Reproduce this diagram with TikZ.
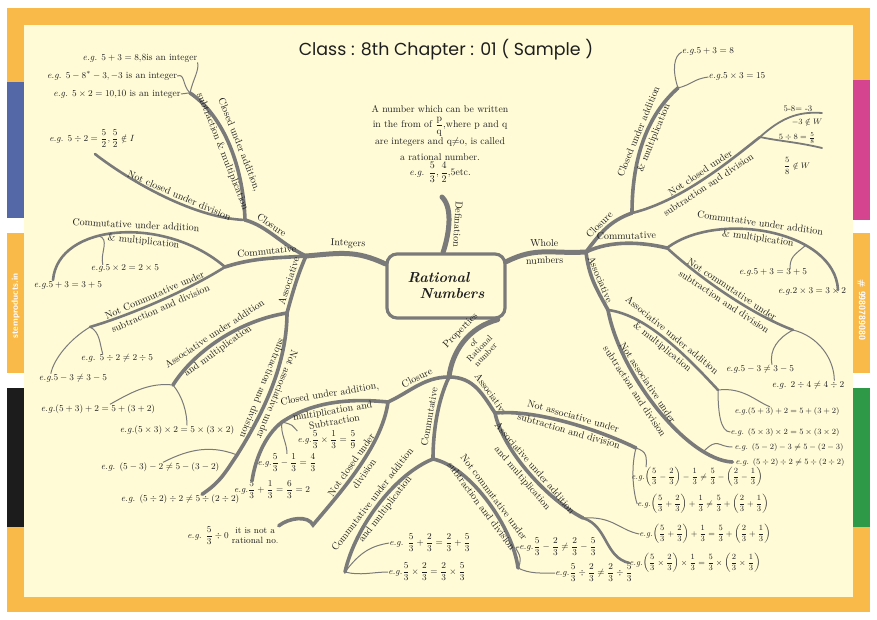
\documentclass[tikz,border=0pt]{standalone}
\usepackage{amsmath}
\usepackage{fontspec}
\newfontfamily\titlefont{Poppins}
\definecolor{cream}{RGB}{255,251,214}
\definecolor{orng}{RGB}{249,186,73}
\definecolor{blu}{RGB}{84,103,167}
\definecolor{mag}{RGB}{213,68,143}
\definecolor{blk}{RGB}{28,28,28}
\definecolor{grn}{RGB}{46,153,70}
\definecolor{brgray}{RGB}{122,122,122}
\definecolor{ink}{RGB}{30,30,30}
\newcommand{\eg}{\textit{e.g.}}

\begin{document}
\begin{tikzpicture}[x=1pt,y=-1pt,
    br0/.style={draw=brgray,line width=5pt,line cap=round},
    br1/.style={draw=brgray,line width=3.6pt,line cap=round},
    br2/.style={draw=brgray,line width=2.6pt,line cap=round},
    br3/.style={draw=brgray,line width=1.8pt,line cap=round},
    twig/.style={draw=brgray,line width=1pt},
    lbl/.style={font=\fontsize{10}{11}\selectfont,inner sep=1pt,text=ink},
    eg/.style={font=\fontsize{9.5}{11}\selectfont,inner sep=0pt,text=ink},
    egf/.style={font=\fontsize{9}{10}\selectfont,inner sep=0pt,text=ink},
    egs/.style={font=\fontsize{8.5}{10}\selectfont,inner sep=0pt,text=ink},
    side/.style={font=\sffamily\bfseries\fontsize{9}{10}\selectfont,text=white}]
    \useasboundingbox (0,0) rectangle (877,620);
    \fill[white] (0,0) rectangle (877,620);
    \fill[orng] (7,8) rectangle (870,612);
    \fill[cream] (24,25) rectangle (853,597);
    \fill[blu] (7,82) rectangle (24,218);
    \fill[white] (7,218) rectangle (24,233);
    \fill[white] (7,373) rectangle (24,388);
    \fill[blk] (7,388) rectangle (24,527);
    \fill[mag] (853,80) rectangle (870,220);
    \fill[white] (853,220) rectangle (870,233);
    \fill[white] (853,373) rectangle (870,388);
    \fill[grn] (853,388) rectangle (870,527);
    \node[side,rotate=90] (web) at (15.5,306) {stemproducts.in};
    \node[side,rotate=-90] (phone) at (861.5,310) {\# 9980789080};
    \node[font=\titlefont\fontsize{17.4}{19}\selectfont,text=ink] (title) at (446,50) {Class : 8th Chapter : 01 ( Sample )};

    \node[draw=brgray,line width=3.2pt,rounded corners=10pt,fill=cream,minimum width=118pt,minimum height=64pt,
        align=left,text=ink,font=\fontsize{14.5}{16}\selectfont\bfseries\itshape] (rn) at (446,286) {Rational\\\hspace*{12pt}Numbers};

    \coordinate (int) at (306,256);
    \coordinate (icl) at (245,220);
    \coordinate (iclt) at (190,93);
    \coordinate (ind) at (95,154);
    \coordinate (icm) at (225,267);
    \coordinate (icme) at (53,280);
    \coordinate (incm) at (90,327);
    \coordinate (ias) at (287,313);
    \coordinate (iasa) at (173,385);
    \coordinate (iasn) at (237,455);
    \coordinate (dtop) at (442,197);
    \coordinate (wh) at (586,252);
    \coordinate (wcl) at (632,213);
    \coordinate (wclt) at (678,88);
    \coordinate (wcln) at (760,137);
    \coordinate (wt1) at (822,113);
    \coordinate (wt2) at (822,148);
    \coordinate (wcm) at (667,248);
    \coordinate (wcme) at (838,290);
    \coordinate (wcmn) at (793,330);
    \coordinate (was) at (608,310);
    \coordinate (wasa) at (718,390);
    \coordinate (pr) at (449,377);
    \coordinate (pcl) at (388,402);
    \coordinate (pclc) at (282,422);
    \coordinate (pnd) at (313,525);
    \coordinate (pcm) at (433,459);
    \coordinate (pcme) at (345,572);
    \coordinate (pcmn) at (518,568);
    \coordinate (pas) at (495,413);
    \coordinate (pasn) at (636,448);
    \coordinate (pasa) at (583,518);

    \node[eg,align=center,font=\fontsize{9.8}{15.5}\selectfont] (defn) at (440,144) {A number which can be written\\
        in the from of $\dfrac{\mathrm p}{\mathrm q}$,where p and q\\ are integers and q$\neq$o, is called\\
        a rational number.\\ \eg{} $\dfrac53,\dfrac42$,5etc.};

    \node[eg] (i1) at (140,58) {\eg{} $5+3=8$,8is an integer};
    \node[eg] (i2) at (112,76) {\eg{} $5-8^{*}-3,-3$ is an integer};
    \node[eg] (i3) at (117,94) {\eg{} $5\times2=10$,10 is an integer};
    \node[egf] (i4) at (92,139) {\eg{} $5\div2=\dfrac52,\dfrac52\notin I$};
    \node[eg] (i5) at (68,286) {\eg{}$5+3=3+5$};
    \node[eg] (i6) at (125,269) {\eg{}$5\times2=2\times5$};
    \node[eg] (i7) at (117,358) {\eg{} $5\div2\neq2\div5$};
    \node[eg] (i8) at (73,378) {\eg{}$5-3\neq3-5$};
    \node[eg] (i9) at (98,409) {\eg{}$(5+3)+2=5+(3+2)$};
    \node[eg] (i10) at (177,430) {\eg{}$(5\times3)\times2=5\times(3\times2)$};
    \node[eg] (i11) at (160,467) {\eg{} $(5-3)-2\neq5-(3-2)$};
    \node[eg] (i12) at (180,499) {\eg{} $(5\div2)\div2\neq5\div(2\div2)$};

    \node[egf] (p1) at (327,440) {\eg{}$\dfrac53\times\dfrac13=\dfrac59$};
    \node[egf] (p2) at (287,463) {\eg{}$\dfrac53-\dfrac13=\dfrac43$};
    \node[egf] (p3) at (272,490) {\eg{}$\dfrac53+\dfrac13=\dfrac63=2$};
    \node[egf] (p4) at (233,536) {\eg{} $\dfrac53\div0$ \begin{tabular}{@{}c@{}}it is not a\\rational no.\end{tabular}};
    \node[egf] (p5) at (430,543) {\eg{} $\dfrac53+\dfrac23=\dfrac23+\dfrac53$};
    \node[egf] (p6) at (427,572) {\eg{}$\dfrac53\times\dfrac23=\dfrac23\times\dfrac53$};
    \node[egf] (p7) at (558,547) {\eg{}$\dfrac53-\dfrac23\neq\dfrac23-\dfrac53$};
    \node[egf] (p8) at (594,573) {\eg{}$\dfrac53\div\dfrac23\neq\dfrac23\div\dfrac53$};
    \node[egs] (p9) at (697,477) {\eg{}$\left(\dfrac53-\dfrac23\right)-\dfrac13\neq\dfrac53-\left(\dfrac23-\dfrac13\right)$};
    \node[egs] (p10) at (703,504) {\eg{}$\left(\dfrac53+\dfrac23\right)+\dfrac13\neq\dfrac53+\left(\dfrac23+\dfrac13\right)$};
    \node[egs] (p11) at (705,534) {\eg{}$\left(\dfrac53+\dfrac23\right)+\dfrac13=\dfrac53+\left(\dfrac23+\dfrac13\right)$};
    \node[egs] (p12) at (695,563) {\eg{}$\left(\dfrac53\times\dfrac23\right)\times\dfrac13=\dfrac53\times\left(\dfrac23\times\dfrac13\right)$};

    \node[eg] (w1) at (708,52) {\eg{}$5+3=8$};
    \node[eg] (w2) at (737,77) {\eg{}$5\times3=15$};
    \node[egs] (w3) at (798,109) {5-8= -3};
    \node[egs] (w4) at (807,122) {$-3\notin W$};
    \node[egs] (w5) at (797,138) {$5\div8=\frac58$};
    \node[egs] (w6) at (797,166) {$\dfrac58\notin W$};
    \node[eg] (w7) at (773,273) {\eg{}$5+3=3+5$};
    \node[eg] (w8) at (812,292) {\eg{}$2\times3=3\times2$};
    \node[eg] (w9) at (760,369) {\eg{}$5-3\neq3-5$};
    \node[eg] (w10) at (808,385) {\eg{} $2\div4\neq4\div2$};
    \node[egs] (w11) at (787,411) {\eg{}$(5+3)+2=5+(3+2)$};
    \node[egs] (w12) at (785,432) {\eg{} $(5\times3)\times2=5\times(3\times2)$};
    \node[egs] (w13) at (789,447) {\eg{} $(5-2)-3\neq5-(2-3)$};
    \node[egs] (w14) at (790,462) {\eg{} $(5\div2)\div2\neq5\div(2\div2)$};

    \draw[br0] (dtop) .. controls +(12,12) and +(5,-15) .. (rn.95)
        node[lbl,pos=.5,sloped,allow upside down,above=2pt] (ldef) {Defination};

    \draw[br0] (rn.160) .. controls +(-30,-14) and +(35,-3) .. (int)
        node[lbl,pos=.5,sloped,above=2pt] (lint) {Integers};
    \draw[br1] (int) .. controls +(-25,-12) and +(22,6) .. (icl)
        node[lbl,pos=.62,sloped,above=1pt] (licl) {Closure};
    \draw[br1] (icl) .. controls +(-2,-60) and +(30,20) .. (iclt)
        node[lbl,pos=.45,sloped,above=1.5pt] (licl1) {Closed under addition,}
        node[lbl,pos=.45,sloped,below=1.5pt] (licl2) {subtraction \& multiplication};
    \draw[twig] (iclt) .. controls +(3,-14) and +(2,8) .. (i1.south east);
    \draw[twig] (iclt) .. controls +(-8,-8) and +(8,-3) .. (i2.east);
    \draw[twig] (iclt) .. controls +(-4,0) and +(3,0) .. (i3.east);
    \draw[br2] (icl) .. controls +(-55,-2) and +(28,22) .. (ind)
        node[lbl,pos=.4,sloped,above=1.5pt] (lind) {Not closed under division};
    \draw[br1] (int) .. controls +(-25,2) and +(30,-10) .. (icm)
        node[lbl,pos=.5,sloped,above=1pt] (licm) {Commutative};
    \draw[br2] (icm) .. controls +(-60,-52) and +(5,-57) .. (icme) coordinate[pos=.6] (icmt)
        node[lbl,pos=.42,sloped,above=1.5pt] (licm1) {Commutative under addition}
        node[lbl,pos=.38,sloped,below=1.5pt] (licm2) {\& multiplication};
    \draw[twig] (icmt) .. controls +(12,3) and +(-3,-12) .. ([xshift=12pt]i6.north west);
    \draw[br2] (icm) .. controls +(-40,25) and +(40,-12) .. (incm)
        node[lbl,pos=.5,sloped,above=1.5pt] (lincm1) {Not Commutative under}
        node[lbl,pos=.5,sloped,below=1.5pt] (lincm2) {subtraction and division};
    \draw[twig] (incm) .. controls +(-20,12) and +(3,-15) .. ([xshift=12pt]i8.north west);
    \draw[twig] (incm) .. controls +(10,5) and +(-3,-10) .. ([xshift=22pt]i7.north west);
    \draw[br1] (int) .. controls +(-8,18) and +(6,-22) .. (ias)
        node[lbl,pos=.5,sloped,above=1pt] (lias) {Associative};
    \draw[br1] (ias) .. controls +(-50,8) and +(20,-32) .. (iasa)
        node[lbl,pos=.5,sloped,above=1.5pt] (lias1) {Associative under addition}
        node[lbl,pos=.55,sloped,below=1.5pt] (lias2) {and multiplication};
    \draw[twig] (iasa) .. controls +(-25,-3) and +(18,-10) .. ([xshift=12pt]i9.north);
    \draw[twig] (iasa) .. controls +(10,12) and +(0,-12) .. ([xshift=10pt]i10.north);
    \draw[br1] (ias) .. controls +(0,55) and +(22,-35) .. (iasn)
        node[lbl,pos=.5,sloped,allow upside down,above=1.5pt] (linas1) {Not associative under}
        node[lbl,pos=.5,sloped,allow upside down,below=1.5pt] (linas2) {subtraction and division}
        .. controls +(-12,18) and +(18,-12) .. ([xshift=22pt]i12.north);
    \draw[twig] (iasn) .. controls +(-30,-12) and +(20,-10) .. ([xshift=3pt]i11.north);

    \draw[br0] (rn.22) .. controls +(30,-15) and +(-35,2) .. (wh)
        node[lbl,pos=.5,sloped,above=1.5pt] (lwh1) {Whole}
        node[lbl,pos=.5,sloped,below=1.5pt] (lwh2) {numbers};
    \draw[br1] (wh) .. controls +(15,-20) and +(-22,8) .. (wcl)
        node[lbl,pos=.45,sloped,above=1pt] (lwcl) {Closure};
    \draw[br1] (wcl) .. controls +(0,-65) and +(-25,22) .. (wclt)
        node[lbl,pos=.5,sloped,above=1.5pt] (lwcl1) {Closed under addition}
        node[lbl,pos=.5,sloped,below=1.5pt] (lwcl2) {\& multiplication};
    \draw[twig] (wclt) .. controls +(-6,-18) and +(-8,4) .. (w1.west);
    \draw[twig] (wclt) .. controls +(15,-4) and +(-15,2) .. (w2.west);
    \draw[br2] (wcl) .. controls +(50,-12) and +(-28,22) .. (wcln)
        node[lbl,pos=.5,sloped,above=1.5pt] (lwcln1) {Not closed under}
        node[lbl,pos=.5,sloped,below=1.5pt] (lwcln2) {subtraction and division};
    \draw[br3] (wcln) .. controls +(20,-18) and +(-25,-2) .. (wt1);
    \draw[br3] (wcln) .. controls +(18,4) and +(-25,-6) .. (wt2);
    \draw[br1] (wh) .. controls +(25,-12) and +(-25,-6) .. (wcm)
        node[lbl,pos=.5,sloped,above=1pt] (lwcm) {Commutative};
    \draw[br2] (wcm) .. controls +(50,-38) and +(-3,-60) .. (wcme) coordinate[pos=.68] (wcmt)
        node[lbl,pos=.45,sloped,above=1.5pt] (lwcm1) {Commutative under addition}
        node[lbl,pos=.45,sloped,below=1.5pt] (lwcm2) {\& multiplication};
    \draw[twig] (wcmt) .. controls +(-12,10) and +(0,-12) .. ([xshift=17pt]w7.north);
    \draw[br2] (wcm) .. controls +(35,32) and +(-40,-15) .. (wcmn)
        node[lbl,pos=.5,sloped,above=1.5pt] (lwcmn1) {Not commutative under}
        node[lbl,pos=.5,sloped,below=1.5pt] (lwcmn2) {subtraction and division};
    \draw[twig] (wcmn) .. controls +(-15,8) and +(-3,-15) .. ([xshift=12pt]w9.north);
    \draw[twig] (wcmn) .. controls +(25,6) and +(0,-22) .. ([xshift=-10pt]w10.north east);
    \draw[br1] (wh) .. controls +(3,25) and +(-12,-22) .. (was)
        node[lbl,pos=.5,sloped,above=1pt] (lwas) {Associative};
    \draw[br2] (was) .. controls +(40,5) and +(-28,-30) .. (wasa)
        node[lbl,pos=.5,sloped,above=1.5pt] (lwas1) {Associative under addition}
        node[lbl,pos=.5,sloped,below=1.5pt] (lwas2) {\& multiplication};
    \draw[twig] (wasa) .. controls +(25,-3) and +(-15,-6) .. ([xshift=-17pt]w11.north);
    \draw[twig] (wasa) .. controls +(0,22) and +(-10,0) .. (w12.west);
    \draw[br1] (was) .. controls +(12,65) and +(-45,-2) .. ([xshift=-3pt]w14.west) coordinate[pos=.8] (wast)
        node[lbl,pos=.38,sloped,above=1.5pt] (lwas3) {Not associative under}
        node[lbl,pos=.38,sloped,below=1.5pt] (lwas4) {subtraction and division};
    \draw[twig] (wast) .. controls +(15,-15) and +(-15,0) .. ([xshift=-2pt]w13.west);

    \draw[br0] (rn.-33) .. controls +(-30,8) and +(3,-25) .. (pr)
        node[lbl,pos=.42,sloped,above=1.5pt] (lpr1) {Properties}
        node[lbl,pos=.42,sloped,below=1.5pt,align=center,font=\fontsize{8.5}{8.5}\selectfont] (lpr2) {of\\Rational\\number};
    \draw[br1] (pr) .. controls +(-25,0) and +(22,-10) .. (pcl)
        node[lbl,pos=.45,sloped,above=1pt] (lpcl) {Closure};
    \draw[br1] (pcl) .. controls +(-40,-4) and +(30,-20) .. (pclc)
        node[lbl,pos=.5,sloped,above=1.5pt] (lpcl1) {Closed under addition,}
        node[lbl,pos=.5,sloped,below=1.5pt,align=center] (lpcl2) {multiplication and\\Subtraction}
        .. controls +(-18,14) and +(3,-20) .. ([xshift=-20pt]p3.north);
    \draw[twig] (pclc) .. controls +(12,3) and +(-6,-6) .. (p1.north west);
    \draw[twig] (pclc) .. controls +(-2,12) and +(0,-12) .. (p2.north);
    \draw[br1] (pcl) .. controls +(-6,45) and +(25,-30) .. (pnd)
        node[lbl,pos=.5,sloped,above=1.5pt] (lpnd1) {Not closed under}
        node[lbl,pos=.5,sloped,below=1.5pt] (lpnd2) {division}
        .. controls +(-5,-10) and +(10,-8) .. (p4.north east);
    \draw[br1] (pr) .. controls +(-12,25) and +(0,-25) .. (pcm)
        node[lbl,pos=.5,sloped,above=1pt] (lpcm) {Commutative};
    \draw[br1] (pcm) .. controls +(-38,15) and +(10,-45) .. (pcme)
        node[lbl,pos=.5,sloped,above=1.5pt] (lpcm1) {Commutative under addition}
        node[lbl,pos=.5,sloped,below=1.5pt] (lpcm2) {and multiplication};
    \draw[twig] (pcme) .. controls +(15,-20) and +(-18,3) .. (p5.west);
    \draw[twig] (pcme) .. controls +(15,4) and +(-15,0) .. (p6.west);
    \draw[br1] (pcm) .. controls +(38,8) and +(-5,-40) .. (pcmn)
        node[lbl,pos=.5,sloped,above=1.5pt] (lpcmn1) {Not commutative under}
        node[lbl,pos=.5,sloped,below=1.5pt] (lpcmn2) {subtraction and division};
    \draw[twig] (pcmn) .. controls +(8,-15) and +(-10,0) .. (p7.west);
    \draw[twig] (pcmn) .. controls +(12,6) and +(-15,0) .. (p8.west);
    \draw[br1] (pr) .. controls +(25,0) and +(-12,-18) .. (pas)
        node[lbl,pos=.72,sloped,above=1pt] (lpas) {Associative};
    \draw[br1] (pas) .. controls +(45,-4) and +(-30,-15) .. (pasn)
        node[lbl,pos=.5,sloped,above=1.5pt] (lpas1) {Not associative under}
        node[lbl,pos=.5,sloped,below=1.5pt] (lpas2) {subtraction and division};
    \draw[twig] (pasn) .. controls +(12,4) and +(0,-10) .. ([xshift=15pt]p9.north west);
    \draw[twig] (pasn) .. controls +(-6,22) and +(-3,-8) .. (p10.west);
    \draw[br1] (pas) .. controls +(8,38) and +(-35,-18) .. (pasa)
        node[lbl,pos=.5,sloped,above=1.5pt] (lpas3) {Associative under addition}
        node[lbl,pos=.5,sloped,below=1.5pt] (lpas4) {and multiplication};
    \draw[twig] (pasa) .. controls +(30,-2) and +(-20,-4) .. (p11.west);
    \draw[br2] (pasa) .. controls +(25,8) and +(-25,-6) .. (p12.west);
\end{tikzpicture}
\end{document}
